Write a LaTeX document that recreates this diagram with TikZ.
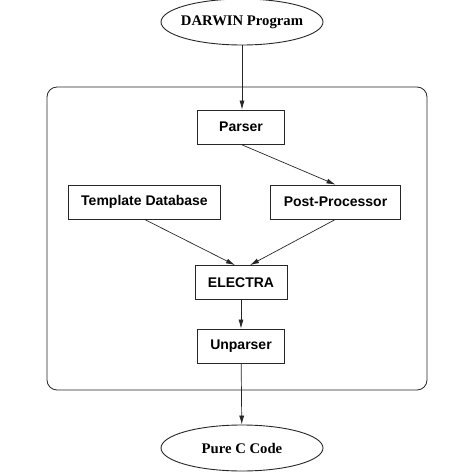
\documentclass[tikz,border=0pt]{standalone}
\usepackage{fontspec}
\setmainfont{Liberation Serif}
\setsansfont{Liberation Sans}
\usetikzlibrary{arrows.meta,shapes.geometric}

\begin{document}
\begin{tikzpicture}[
        x=1pt, y=-1pt,
        stage/.style={draw=black!85, rectangle, line width=0.8pt, minimum width=87pt, minimum height=34pt, inner xsep=13pt, font=\sffamily\bfseries\fontsize{14}{16}\selectfont},
        io/.style={draw=black!85, ellipse, line width=0.9pt, minimum width=162pt, minimum height=46pt, inner xsep=-4pt, inner ysep=1pt, font=\bfseries\fontsize{14.7}{16}\selectfont},
        flow/.style={-{Latex[length=9pt,width=5pt]}, line width=0.7pt, black!85}
        ]
        \useasboundingbox (0,0) rectangle (474,474);
        % enclosing frame
        \draw[draw=black!85, line width=0.8pt, rounded corners=10pt] (47,87) rectangle (427,390);
        \node[io] (Darwin) at (242,22) {DARWIN Program};
        \node[stage] (Parser) at (241,127) {Parser};
        \node[stage] (Template) at (144.5,202) {Template Database};
        \node[stage] (Post) at (335.5,202) {Post-Processor};
        \node[stage] (Electra) at (241,282.5) {ELECTRA};
        \node[stage] (Unparser) at (241,346) {Unparser};
        \node[io] (PureC) at (242,448) {Pure C Code};
        \draw[flow] (Darwin.south) -- (Parser.north -| Darwin.south);
        \draw[flow] (Parser.south) -- (Post.north);
        \draw[flow] (Template.south) -- ([xshift=-6pt]Electra.north);
        \draw[flow] (Post.south) -- ([xshift=9pt]Electra.north);
        \draw[flow] (Electra) -- (Unparser);
        \draw[flow] (Unparser) -- (PureC);
\end{tikzpicture}
\end{document}
